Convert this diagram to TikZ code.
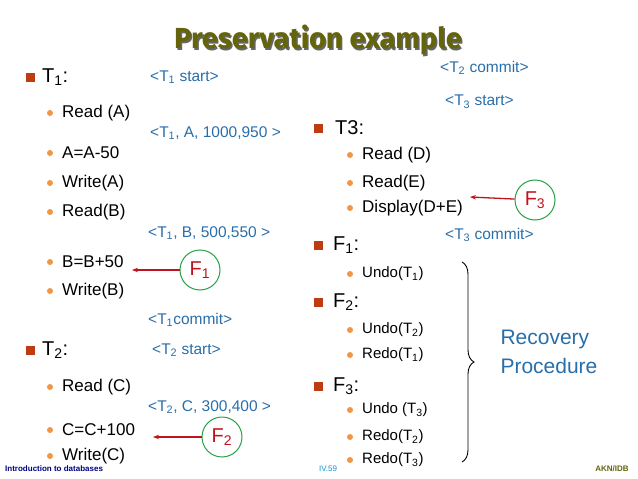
\documentclass[tikz,border=0pt]{standalone}
\usepackage{fontspec}
\setmainfont{Liberation Sans}
\newfontfamily\titlefont{Fira Sans}
\usetikzlibrary{decorations.pathreplacing,arrows.meta}
\definecolor{olive}{RGB}{100,100,10}
\definecolor{sq}{RGB}{190,60,20}
\definecolor{dot}{RGB}{240,150,70}
\definecolor{blu}{RGB}{40,110,170}
\definecolor{fred}{RGB}{190,20,30}
\definecolor{fgreen}{RGB}{40,160,70}
\newcommand{\sbs}[1]{\textsubscript{#1}}
\tikzset{
 tx/.style={anchor=west,inner sep=0pt,font=\fontsize{17}{19}\selectfont},
 sm/.style={anchor=west,inner sep=0pt,font=\fontsize{15}{17}\selectfont},
 lg/.style={anchor=west,inner sep=0pt,font=\fontsize{20}{22}\selectfont},
 bl/.style={anchor=west,inner sep=0pt,text=blu,font=\fontsize{15.5}{17}\selectfont},
 sqb/.style={fill=sq,minimum size=9pt,inner sep=0pt},
 dt/.style={circle,fill=dot,minimum size=6pt,inner sep=0pt},
 fc/.style={circle,draw=fgreen,line width=1pt,minimum size=40pt,inner sep=0pt,text=fred,font=\fontsize{20}{22}\selectfont},
 ar/.style={draw=fred,line width=1.3pt,-{Stealth[length=6pt]}}
}
\begin{document}
\begin{tikzpicture}[x=1pt,y=-1pt]
\useasboundingbox (0,0) rectangle (638,479);
\node[text=black!60,font=\titlefont\bfseries\fontsize{29}{30}\selectfont] at (319.5,41.5) {Preservation example};
\node[text=olive,font=\titlefont\bfseries\fontsize{29}{30}\selectfont] (title) at (318,40) {Preservation example};
% left column
\node[sqb] (s1) at (30,77) {}; \node[lg] (t1) at (42,77) {T\sbs{1}:};
\node[bl] (b1) at (150,77) {<T\sbs{1} start>};
\node[dt] at (50,113) {}; \node[tx] (ra) at (62,113) {Read (A)};
\node[bl] (b2) at (150,133) {<T\sbs{1}, A, 1000,950 >};
\node[dt] at (50,153) {}; \node[tx] (aa) at (62,153) {A=A-50};
\node[dt] at (50,183) {}; \node[tx] (wa) at (62,183) {Write(A)};
\node[dt] at (50,212) {}; \node[tx] (rb) at (62,212) {Read(B)};
\node[bl] (b3) at (148,233) {<T\sbs{1}, B, 500,550 >};
\node[dt] at (50,262) {}; \node[tx] (bb) at (62,262) {B=B+50};
\node[dt] at (50,291) {}; \node[tx] (wb) at (62,291) {Write(B)};
\node[bl] (b4) at (148,320) {<T\sbs{1}commit>};
\node[sqb] (s2) at (30,350) {}; \node[lg] (t2) at (42,350) {T\sbs{2}:};
\node[bl] (b5) at (152,350) {<T\sbs{2} start>};
\node[dt] at (50,387) {}; \node[tx] (rc) at (62,387) {Read (C)};
\node[bl] (b6) at (148,407) {<T\sbs{2}, C, 300,400 >};
\node[dt] at (50,430) {}; \node[tx] (cc) at (62,430) {C=C+100};
\node[dt] at (50,456) {}; \node[tx] (wc) at (62,456) {Write(C)};
% right column
\node[bl] (b7) at (440,68) {<T\sbs{2} commit>};
\node[bl] (b8) at (445,102) {<T\sbs{3} start>};
\node[sqb] (s3) at (318,128) {}; \node[lg] (t3) at (335,128) {T3:};
\node[dt] at (350,155) {}; \node[tx] (rd) at (362,155) {Read (D)};
\node[dt] at (350,183) {}; \node[tx] (re) at (362,183) {Read(E)};
\node[dt] at (350,208) {}; \node[tx] (de) at (362,208) {Display(D+E)};
\node[bl] (b9) at (445,235) {<T\sbs{3} commit>};
\node[sqb] (s4) at (318,245) {}; \node[lg] (f1) at (333,245) {F\sbs{1}:};
\node[dt] at (350,274) {}; \node[sm] (u1) at (362,274) {Undo(T\sbs{1})};
\node[sqb] (s5) at (318,302) {}; \node[lg] (f2) at (333,302) {F\sbs{2}:};
\node[dt] at (350,330) {}; \node[sm] (u2) at (362,330) {Undo(T\sbs{2})};
\node[dt] at (350,355) {}; \node[sm] (r1) at (362,355) {Redo(T\sbs{1})};
\node[sqb] (s6) at (318,386) {}; \node[lg] (f3) at (333,386) {F\sbs{3}:};
\node[dt] at (350,410) {}; \node[sm] (u3) at (362,410) {Undo (T\sbs{3})};
\node[dt] at (350,437) {}; \node[sm] (r2) at (362,437) {Redo(T\sbs{2})};
\node[dt] at (350,460) {}; \node[sm] (r3) at (362,460) {Redo(T\sbs{3})};
% failure circles
\node[fc] (F1) at (200,270) {F\sbs{1}};
\node[fc] (F2) at (222,437) {F\sbs{2}};
\node[fc] (F3) at (535,200) {F\sbs{3}};
\coordinate (e1) at (132,270); \coordinate (e2) at (153,437); \coordinate (e3) at (470,197);
\draw[ar] (F1) -- (e1); \draw[ar] (F2) -- (e2); \draw[ar] (F3) -- (e3);
% brace
\coordinate (bt) at (462,262); \coordinate (bo) at (462,462);
\draw[line width=0.9pt,decorate,decoration={brace,amplitude=12pt}] (bt) -- (bo);
\node[anchor=west,text=blu,align=left,font=\fontsize{21}{29}\selectfont] (rp) at (497,352) {Recovery\\Procedure};
% footer
\node[anchor=west,inner sep=0pt,text=blue!50!black,font=\bfseries\fontsize{8}{9}\selectfont] (ft1) at (5,469) {Introduction to databases};
\node[inner sep=0pt,text=cyan!80!blue,font=\fontsize{8}{9}\selectfont] (ft2) at (328,469) {IV.59};
\node[inner sep=0pt,text=olive,font=\bfseries\fontsize{8}{9}\selectfont] (ft3) at (612,469) {AKN/IDB};
\end{tikzpicture}
\end{document}
